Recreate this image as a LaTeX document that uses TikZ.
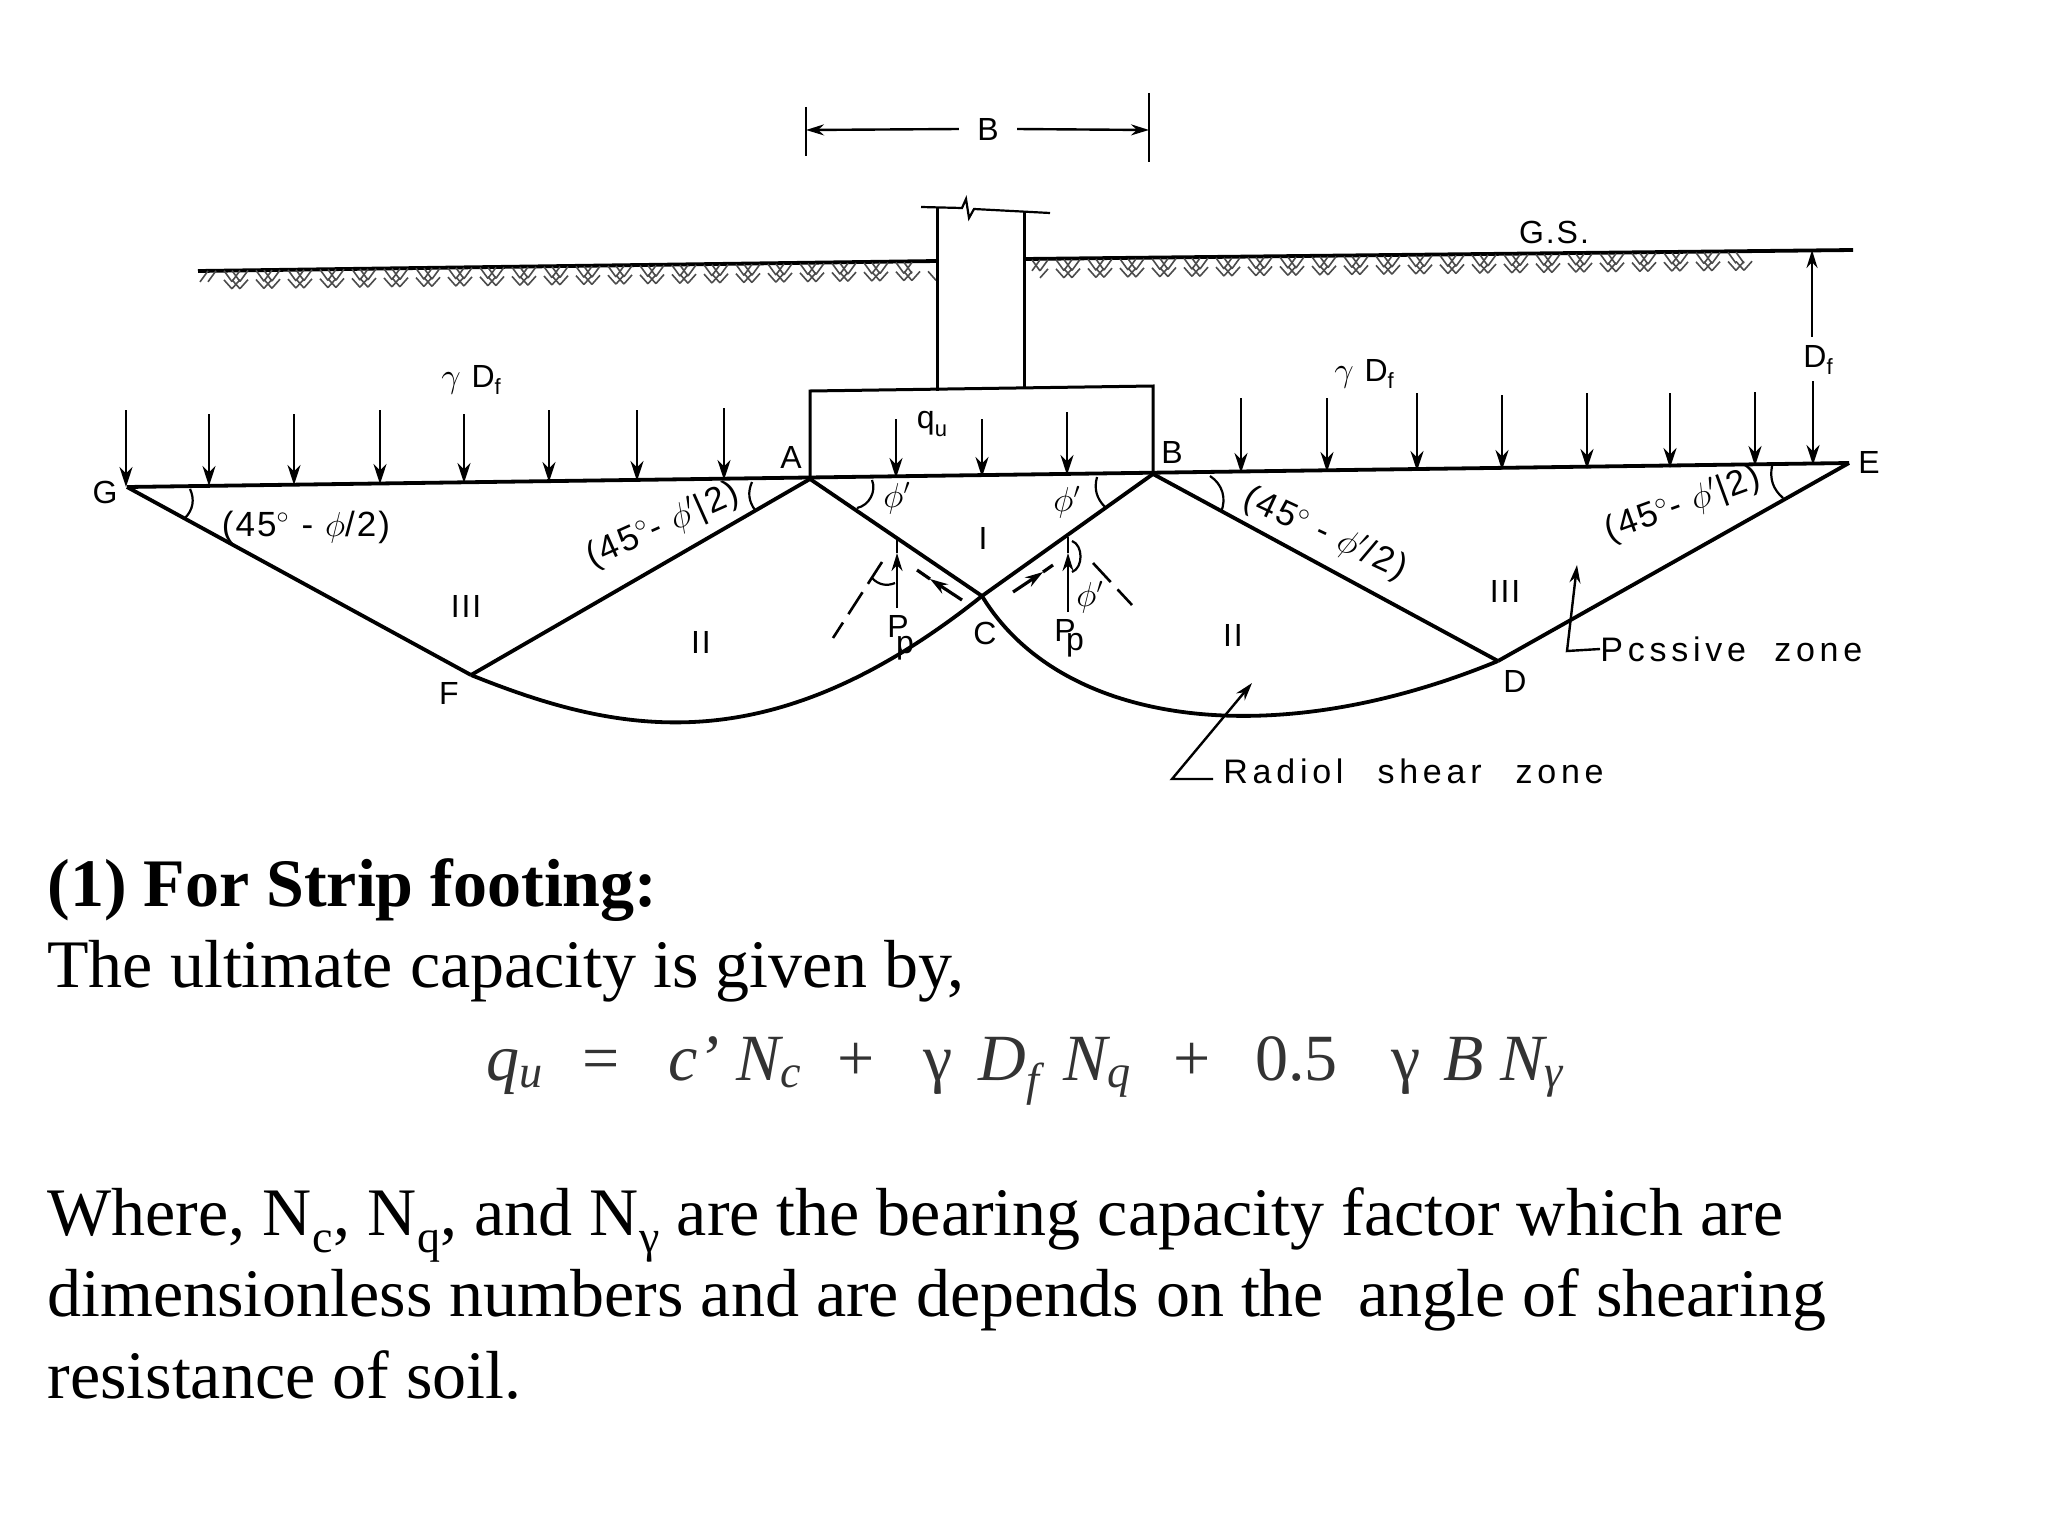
\documentclass[tikz,border=0pt]{standalone}
\usepackage{fontspec}
\setmainfont{Liberation Serif}
\newfontfamily\labelfont[LetterSpace=6]{Liberation Sans}
\newfontfamily\wideLabelfont[LetterSpace=14]{Liberation Sans}
\newcommand{\lowsub}[1]{\hspace{0.5pt}\raisebox{-0.55ex}{\fontsize{23}{24}\selectfont #1}}
\newcommand{\dfsub}[1]{\raisebox{-0.45ex}{\fontsize{11}{12}\selectfont #1}}
\usetikzlibrary{arrows.meta}
\tikzset{
  soilline/.style={line width=1.9pt},
  hatchline/.style={line width=0.8pt,black!70},
  loadarrow/.style={line width=1.2pt,-{Stealth[length=10pt,width=6.5pt]}},
  midarrow/.style={line width=1.2pt,-{Stealth[length=9pt,width=5.5pt]}},
  thinline/.style={line width=1.1pt},
  dashline/.style={line width=1.3pt,dash pattern=on 13pt off 5pt},
  lab/.style={font=\labelfont\fontsize{16}{18}\selectfont,inner sep=0pt},
  anglab/.style={font=\labelfont\fontsize{17.5}{20}\selectfont,inner sep=0pt},
  widelab/.style={font=\wideLabelfont\fontsize{17}{20}\selectfont,inner sep=0pt,anchor=west},
  bodyline/.style={font=\fontsize{34}{40}\selectfont,anchor=base west,inner sep=0pt},
}
\begin{document}
\begin{tikzpicture}
[x=0.5pt,y=-0.5pt]
\path[use as bounding box] (0,0) rectangle (2048,1536);
%% points of the failure surface
\coordinate (G) at (127,487);
\coordinate (A) at (810,479);
\coordinate (B) at (1153,474);
\coordinate (E) at (1849,463);
\coordinate (F) at (471,675);
\coordinate (C) at (982,596);
\coordinate (D) at (1498,661);
%% ground surface
\coordinate (gsL) at (198,271);
\coordinate (gsA) at (937,261);
\coordinate (gsB) at (1024,259);
\coordinate (gsR) at (1853,250);
\draw[soilline] (gsL) -- (gsA);
\draw[soilline] (gsB) -- (gsR);
\foreach \x in {208,216,...,912}
{
  \pgfmathsetmacro{\yy}{271-(\x-200)*0.0122}
  \pgfmathsetmacro{\dx}{mod(\x,32)<16 ? 8 : -8}
  \draw[hatchline] (\x,\yy) -- ++(\dx,11);
  \draw[hatchline] (\x+16,\yy+9) -- ++(-\dx,9);
}
\foreach \x in {1032,1040,...,1736}
{
  \pgfmathsetmacro{\yy}{260-(\x-1024)*0.0109}
  \pgfmathsetmacro{\dx}{mod(\x,32)<16 ? 8 : -8}
  \draw[hatchline] (\x,\yy) -- ++(\dx,11);
  \draw[hatchline] (\x+16,\yy+9) -- ++(-\dx,9);
}
%% column and footing
\coordinate (capL) at (921,207);
\coordinate (colL) at (937,208);
\coordinate (colR) at (1024,212);
\coordinate (capR) at (1050,213);
\coordinate (baseL) at (937,391);
\coordinate (baseR) at (1024,387);
\coordinate (footL) at (810,391);
\coordinate (footR) at (1153,386);
\draw[thinline] (capL) -- (962,208) -- (966,199) -- (969,218) -- (974,209) -- (capR);
\draw[soilline,line width=1.5pt] (colL) -- (baseL);
\draw[soilline,line width=1.5pt] (colR) -- (baseR);
\draw[soilline,line width=1.5pt] (A) -- (footL) -- (footR) -- (B);
%% failure lines
\draw[soilline] (G) -- (E);
\draw[soilline] (G) -- (F);
\draw[soilline] (F) -- (A);
\draw[soilline] (A) -- (C);
\draw[soilline] (C) -- (B);
\draw[soilline] (B) -- (D);
\draw[soilline] (D) -- (E);
\draw[soilline] (F) .. controls (620,735) and (770,765) .. (C);
\draw[soilline] (C) .. controls (1060,725) and (1270,755) .. (D);
%% surcharge and bearing arrows
\foreach \xx/\ya/\yb in {126/410/487, 209/414/486, 294/414/485, 380/410/484, 464/414/483,
  549/410/482, 637/410/481, 724/408/480, 896/419/478, 982/419/477, 1067/412/475,
  1241/398/473, 1327/398/472, 1417/393/471, 1502/395/470, 1587/393/469, 1670/393/468,
  1755/392/466, 1813/381/465}
{
  \coordinate (up\xx) at (\xx,\ya);
  \coordinate (dn\xx) at (\xx,\yb);
  \draw[loadarrow] (up\xx) -- (dn\xx);
}
%% width of the footing
\coordinate (dimLt) at (806,107);
\coordinate (dimLb) at (806,156);
\coordinate (dimRt) at (1149,93);
\coordinate (dimRb) at (1149,162);
\node[lab] (labB) at (988,129) {B};
\draw[thinline] (dimLt) -- (dimLb);
\draw[thinline] (dimRt) -- (dimRb);
\draw[midarrow] (labB.west) ++(-18,0) -- (806,130);
\draw[midarrow] (labB.east) ++(18,0) -- (1149,130);
%% depth of the footing
\coordinate (dfTop) at (1812,250);
\node[lab] (labDf) at (1818,360) {D\dfsub{f}};
\draw[midarrow] (labDf.north -| dfTop) ++(0,-8) -- (dfTop);
%% angle marks
\draw[thinline] (190,489) to[bend left=35] (185,518);
\draw[thinline] (752,482) to[bend right=30] (755,510);
\draw[thinline] (872,480) to[bend left=50] (857,508);
\draw[thinline] (1097,477) to[bend right=30] (1105,507);
\draw[thinline] (1210,476) to[bend left=40] (1221,512);
\draw[thinline] (1772,466) to[bend right=30] (1783,498);
%% passive earth pressure, left
\coordinate (apexL) at (897,538);
\coordinate (pushL) at (897,553);
\coordinate (tailL) at (897,608);
\coordinate (dashLa) at (882,562);
\coordinate (dashLb) at (833,638);
\draw[midarrow] (tailL) -- (pushL);
\draw[thinline] (pushL) -- (apexL);
\draw[dashline] (dashLa) -- (dashLb);
\draw[thinline] (872,578) to[bend right=35] (895,583);
\coordinate (shearLa) at (962,600);
\coordinate (shearLm) at (930,579);
\coordinate (shearLb) at (917,570);
\draw[midarrow,line width=1.6pt] (shearLa) -- (shearLm);
\draw[thinline,line width=1.6pt] (shearLm) -- (shearLb);
%% passive earth pressure, right
\coordinate (apexR) at (1068,537);
\coordinate (pushR) at (1068,553);
\coordinate (tailR) at (1068,612);
\coordinate (dashRa) at (1093,563);
\coordinate (dashRb) at (1132,605);
\draw[midarrow] (tailR) -- (pushR);
\draw[thinline] (pushR) -- (apexR);
\draw[dashline] (dashRa) -- (dashRb);
\draw[thinline] (1072,541) to[bend left=70] (1072,572);
\coordinate (shearRa) at (1013,592);
\coordinate (shearRm) at (1043,572);
\coordinate (shearRb) at (1053,565);
\draw[midarrow,line width=1.6pt] (shearRa) -- (shearRm);
\draw[thinline,line width=1.6pt] (shearRm) -- (shearRb);
%% leaders
\node[widelab] (labRadial) at (1223,771) {Radiol\quad shear\quad zone};
\coordinate (radialKnee) at (1172,779);
\coordinate (radialTip) at (1252,683);
\draw[midarrow] (labRadial.west) ++(-10,8) -- (radialKnee) -- (radialTip);
\node[widelab] (labPassive) at (1600,649) {Pcssive\hspace{7pt} zone};
\coordinate (passiveKnee) at (1567,651);
\coordinate (passiveTip) at (1577,565);
\draw[midarrow] (labPassive.west) -- (passiveKnee) -- (passiveTip);
%% labels
\node[lab] (labG) at (105,492) {G};
\node[lab] (labA) at (791,457) {A};
\node[lab] (labBb) at (1172,452) {B};
\node[lab] (labE) at (1869,462) {E};
\node[lab] (labF) at (449,693) {F};
\node[lab] (labC) at (985,633) {C};
\node[lab] (labD) at (1515,681) {D};
\node[lab] (labGS) at (1554,232) {G.S.};
\node[lab] (labGDl) at (471,380) {$\gamma$ D\dfsub{f}};
\node[lab] (labGDr) at (1364,374) {$\gamma$ D\dfsub{f}};
\node[lab] (labQu) at (932,424) {q\dfsub{u}};
\node[lab] (labIIIl) at (466,606) {III};
\node[lab] (labIIl) at (701,642) {II};
\node[lab] (labI) at (983,538) {I};
\node[lab] (labIIr) at (1233,635) {II};
\node[lab] (labIIIr) at (1505,591) {III};
\node[anglab] (labAngG) at (306,527) {(45$^\circ$ - $\phi$/2)};
\node[anglab,rotate=24] (labAngA) at (663,526) {(45$^\circ$- $\phi'$|2)};
\node[anglab,rotate=-25] (labAngB) at (1325,534) {(45$^\circ$ - $\phi'$/2)};
\node[anglab,rotate=20] (labAngE) at (1683,505) {(45$^\circ$- $\phi'$|2)};
\node[lab] (labPhiA) at (897,498) {$\phi'$};
\node[lab] (labPhiB) at (1067,502) {$\phi'$};
\node[lab] (labPhiR) at (1090,597) {$\phi'$};
\node[lab] (labPl) at (898,626) {P};
\node[lab] (labPls) at (905,648) {p};
\node[lab] (labPr) at (1065,630) {P};
\node[lab] (labPrs) at (1075,645) {p};
%% text below the figure
\node[bodyline,font=\fontsize{34}{40}\selectfont\bfseries] (head) at (47,906) {(1) For Strip footing:};
\node[bodyline] (line1) at (47,987) {The ultimate capacity is given by,};
\node[font=\fontsize{33}{40}\selectfont,text=black!80,anchor=base west,inner sep=0pt] (qult) at (486,1080)
  {\textit{q\textsubscript{u}}\hspace{11pt} = \ \hspace{8pt}\textit{c' N\textsubscript{c}}\hspace{9.5pt} +\ \ \hspace{8pt}γ\hspace{5pt} \textit{D\textsubscript{f}\hspace{3.5pt} N\textsubscript{q}}\hspace{12.5pt} +\ \hspace{14pt}0.5\hspace{10.5pt}\ \ γ\hspace{3pt} \textit{B N\textsubscript{γ}}};
\node[bodyline] (line2) at (47,1235) {Where, N\lowsub{c}, N\lowsub{q}, and N\lowsub{γ} are the bearing capacity factor which are};
\node[bodyline] (line3) at (47,1316) {dimensionless numbers and are depends on the\ \ angle of shearing};
\node[bodyline] (line4) at (47,1398) {resistance of soil.};
\end{tikzpicture}
\end{document}
